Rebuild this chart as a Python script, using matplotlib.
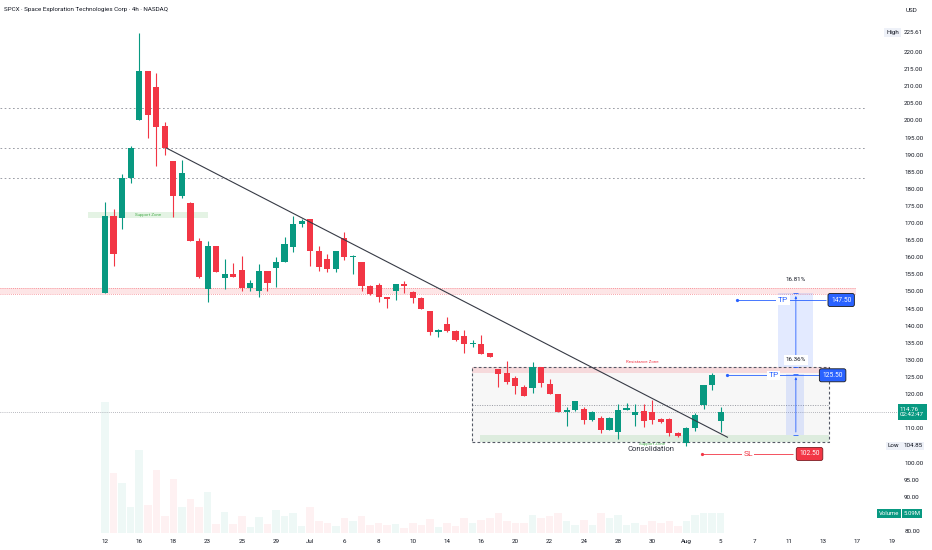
import matplotlib
matplotlib.use("Agg")
import matplotlib.pyplot as plt
from matplotlib.patches import Rectangle
import matplotlib.transforms as mtransforms

plt.rcParams['font.family'] = ['Roboto', 'DejaVu Sans']

# ---------------- data ----------------
opens = [149.6, 172.1, 171.6, 183.1, 200.1, 214.4, 209.7, 198.4, 188.0, 178.0,
         175.8, 164.8, 150.8, 163.4, 153.8, 155.1, 156.3, 151.0, 150.2, 156.0,
         157.0, 158.5, 163.0, 169.6, 171.2, 161.8, 159.4, 156.5, 165.5, 160.0,
         158.5, 151.6, 151.9, 148.3, 150.0, 152.1, 149.8, 148.2, 144.4, 138.2,
         140.5, 138.4, 137.0, 134.6, 134.6, 132.1, 127.3, 126.1, 124.8, 122.2,
         121.7, 127.8, 122.9, 120.0, 114.9, 115.4, 115.5, 112.4, 113.1, 109.5,
         108.8, 115.4, 113.9, 115.1, 114.9, 112.6, 112.7, 108.5, 105.8, 110.0,
         116.8, 122.7, 112.1]
highs = [176.2, 174.0, 184.3, 192.6, 225.61, 214.4, 213.8, 199.6, 188.0, 188.4,
         176.2, 165.5, 164.8, 163.4, 159.4, 158.2, 160.4, 153.4, 158.0, 156.0,
         160.0, 165.8, 172.1, 171.1, 171.2, 163.3, 160.9, 161.8, 167.5, 160.6,
         158.5, 152.0, 152.4, 148.5, 152.1, 153.2, 150.0, 148.5, 144.4, 139.0,
         142.6, 138.7, 138.7, 135.8, 137.3, 132.1, 127.3, 129.8, 125.4, 122.7,
         129.5, 128.0, 124.3, 120.0, 116.1, 118.1, 116.1, 115.0, 113.6, 113.4,
         117.1, 117.5, 117.1, 117.1, 118.3, 113.0, 113.1, 108.8, 110.4, 114.4,
         122.7, 126.3, 116.3]
lows = [149.5, 157.3, 168.3, 181.6, 200.1, 195.0, 186.8, 189.9, 171.9, 177.2,
        164.8, 153.8, 146.9, 155.8, 150.8, 154.1, 150.2, 150.2, 148.5, 150.2,
        151.4, 158.5, 161.6, 168.9, 157.4, 156.1, 155.8, 155.8, 159.2, 155.1,
        150.2, 149.0, 147.0, 145.1, 147.5, 149.5, 146.5, 144.9, 137.3, 136.8,
        138.2, 135.5, 132.1, 133.9, 131.7, 130.8, 122.0, 122.9, 120.0, 119.4,
        120.2, 122.0, 120.0, 114.9, 110.7, 115.2, 111.3, 112.2, 108.5, 109.5,
        106.8, 115.4, 110.7, 110.3, 111.4, 111.6, 107.8, 107.6, 104.85, 109.2,
        115.5, 121.2, 109.0]
closes = [172.1, 161.1, 183.1, 192.0, 214.4, 201.6, 198.2, 191.9, 178.0, 184.7,
          164.8, 154.1, 163.4, 155.8, 155.0, 154.1, 151.0, 152.6, 156.0, 152.5,
          158.5, 163.8, 169.6, 170.6, 161.8, 157.2, 156.5, 161.8, 160.2, 160.4,
          151.6, 149.2, 148.5, 147.8, 152.1, 151.7, 148.2, 144.9, 138.2, 138.7,
          138.4, 135.8, 134.6, 135.0, 131.7, 130.8, 126.0, 123.4, 122.4, 119.4,
          128.0, 123.2, 120.0, 114.9, 115.4, 117.9, 112.4, 114.7, 109.5, 113.1,
          115.4, 115.8, 114.9, 112.2, 112.4, 111.8, 108.5, 107.8, 110.0, 113.9,
          122.7, 125.6, 114.76]
volumes = [33.8, 15.5, 12.9, 6.8, 21.3, 7.2, 16.2, 4.4, 14.0, 6.8,
           8.7, 6.8, 10.6, 2.4, 5.3, 2.4, 4.4, 1.5, 4.1, 2.4,
           5.8, 4.3, 5.1, 1.7, 6.6, 3.0, 2.6, 1.7, 3.8, 3.2,
           4.4, 2.1, 2.7, 2.1, 2.4, 1.3, 2.6, 2.1, 3.6, 1.5,
           2.7, 1.7, 3.8, 2.6, 3.4, 3.8, 5.1, 3.0, 2.7, 2.7,
           4.7, 3.8, 4.3, 5.1, 3.0, 2.1, 3.4, 2.1, 5.1, 3.8,
           4.7, 2.1, 2.6, 2.1, 3.0, 2.6, 3.0, 1.7, 3.0, 4.7,
           5.1, 5.1, 5.09]

date_labels = ["12", "16", "18", "23", "25", "29", "Jul", "6", "8", "10", "14", "16",
               "20", "22", "24", "28", "30", "Aug", "5", "7", "11", "13", "17", "19"]
price_ticks = [80, 90, 95, 100, 110, 120, 125, 130, 135, 140, 145, 150, 155, 160,
               165, 170, 175, 180, 185, 190, 195, 200, 205, 210, 215, 220]
dotted_levels = [203.5, 192.0, 183.3]
zone150 = (149.3, 150.9)
support_zone = (171.6, 173.1)
box_range = (105.9, 128.0)
box_resist = (126.1, 128.0)
box_support = (105.9, 108.1)
trend_pts = [(7.2, 191.9), (72.8, 107.4)]
tp1, tp2, sl = 147.50, 125.50, 102.50
meas1 = (128.0, 149.5, "16.81%")
meas2 = (108.1, 125.8, "16.36%")
last_price = 114.76
high_val, low_val = 225.61, 104.85

GREEN = "#089981"
RED = "#f23645"
BLUE = "#2962ff"
GREY = "#787b86"
TXT = "#131722"

# ---------------- figure ----------------
fig = plt.figure(figsize=(9.32, 5.5), dpi=100)
rect = [0, 17 / 550, 900 / 932, 533 / 550]
axv = fig.add_axes(rect)
ax = fig.add_axes(rect, sharex=axv)
ax.set_zorder(2)
axv.set_zorder(1)
ax.patch.set_visible(False)

n = len(opens)
idx = list(range(n))
XMIN, XMAX = -12.28, 92.98
ax.set_xlim(XMIN, XMAX)
ax.set_ylim(79.4, 235.2)
XEND = 88.9

# volume
vcols = [GREEN if c >= o else RED for o, c in zip(opens, closes)]
axv.bar(idx, volumes, width=0.88, color=vcols, alpha=0.065, linewidth=0)
axv.set_ylim(0, 137.2)
axv.axis('off')

# horizontal dotted levels
for lv in dotted_levels:
    ax.hlines(lv, XMIN, XEND, colors="#8a8d96", linestyles=(0, (2, 3)), linewidth=0.6, zorder=1)

# 150 zone
ax.add_patch(Rectangle((XMIN, zone150[0]), 87.8 - XMIN, zone150[1] - zone150[0],
                       facecolor=RED, alpha=0.13, linewidth=0, zorder=1))
for lv in zone150:
    ax.hlines(lv, XMIN, 87.8, colors=RED, linestyles=(0, (1, 1.5)), linewidth=0.6, alpha=0.6, zorder=1)

# support zone (left)
ax.add_patch(Rectangle((-1.95, support_zone[0]), 13.95, support_zone[1] - support_zone[0],
                       facecolor="#4caf50", alpha=0.15, linewidth=0, zorder=1))
ax.text(5.0, sum(support_zone) / 2, "Support Zone", fontsize=3.2, color="#4caf50",
        ha='center', va='center', zorder=2)

# consolidation box
bx0, bx1 = 42.96, 84.7
ax.add_patch(Rectangle((bx0, box_range[0]), bx1 - bx0, box_range[1] - box_range[0],
                       facecolor="#9e9e9e", alpha=0.08, linewidth=0, zorder=1))
ax.add_patch(Rectangle((bx0, box_range[0]), bx1 - bx0, box_range[1] - box_range[0],
                       fill=False, edgecolor="#555a66", linestyle=(0, (2.5, 2)), linewidth=0.8, zorder=3))
ax.add_patch(Rectangle((bx0, box_resist[0]), bx1 - bx0, box_resist[1] - box_resist[0],
                       facecolor=RED, alpha=0.15, linewidth=0, zorder=1))
ax.add_patch(Rectangle((43.9, box_support[0]), bx1 - 43.9, box_support[1] - box_support[0],
                       facecolor="#4caf50", alpha=0.15, linewidth=0, zorder=1))
ax.hlines(sum(box_range) / 2, bx0, bx1, colors=GREY, linestyles=(0, (1.5, 2)), linewidth=0.5, zorder=1)
ax.text(62.8, 129.3, "Resistance Zone", fontsize=3.2, color=RED, ha='center', va='center', zorder=2)
ax.text(64.0, 105.3, "Support Zone", fontsize=3.2, color="#4caf50", ha='center', va='center', zorder=2)
ax.text(63.9, 104.0, "Consolidation", fontsize=5.5, color="#2a2e39", ha='center', va='center', zorder=4)

# current price line
ax.hlines(last_price, XMIN, XMAX, colors=GREY, linestyles=(0, (1, 2)), linewidth=0.5, zorder=1)

# candles
for i, o, h, l, c in zip(idx, opens, highs, lows, closes):
    col = GREEN if c >= o else RED
    ax.vlines(i, l, h, colors=col, linewidth=0.8, zorder=4)
    bot = min(o, c)
    hgt = max(abs(c - o), 0.35)
    ax.bar(i, hgt, bottom=bot, width=0.72, color=col, linewidth=0, zorder=5)

# trendline
ax.plot([p[0] for p in trend_pts], [p[1] for p in trend_pts], color="#363a45",
        linewidth=0.8, zorder=6)

# measurement rectangles
for (lo, hi, lab), (x0, x1), ly in [(meas1, (78.75, 82.8), 153.4), (meas2, (79.7, 81.8), 130.0)]:
    ax.add_patch(Rectangle((x0, lo), x1 - x0, hi - lo, facecolor=BLUE, alpha=0.13,
                           linewidth=0, zorder=2))
    ax.annotate("", xy=(80.8, hi), xytext=(80.8, lo),
                arrowprops=dict(arrowstyle="-|>", color=BLUE, lw=0.6, mutation_scale=3),
                zorder=3)
    ax.hlines([lo, hi], 80.5, 81.1, colors=BLUE, linewidth=0.6, zorder=3)
    ax.text(80.8, ly, lab, fontsize=4.5, color=TXT, ha='center', va='center', zorder=6,
            bbox=dict(boxstyle="square,pad=0.35", facecolor="white", edgecolor="none"))

# TP / SL lines
def level(y, x0, x1, xt, label, col, xbox, boxtxt):
    ax.hlines(y, x0, x1, colors=col, linewidth=0.6, zorder=6)
    ax.plot([x0], [y], marker='o', markersize=1.3, color=col, zorder=6)
    ax.text(xt, y, label, fontsize=6, color=col, ha='center', va='center', zorder=7,
            bbox=dict(boxstyle="square,pad=0.2", facecolor="white", edgecolor="none"))
    ax.text(xbox, y, boxtxt, fontsize=4.8, color="white", ha='center', va='center', zorder=8,
            bbox=dict(boxstyle="round,pad=0.45,rounding_size=0.3", facecolor=col,
                      edgecolor="#1a1a1a" if col == BLUE else "#7a1c22", linewidth=0.6))

level(tp1, 73.9, 84.3, 79.3, "TP", BLUE, 86.1, f"{tp1:.2f}")
level(tp2, 72.7, 83.5, 78.2, "TP", BLUE, 85.1, f"{tp2:.2f}")
level(sl, 69.8, 80.5, 75.2, "SL", RED, 82.4, f"{sl:.2f}")

# axes styling
for s in ax.spines.values():
    s.set_visible(False)
ax.yaxis.tick_right()
ax.set_yticks(price_ticks)
ax.set_yticklabels([f"{v:.2f}" for v in price_ticks])
ax.tick_params(axis='y', length=0, pad=3, labelsize=4.5, colors=TXT)
ax.set_xticks(list(range(0, 4 * len(date_labels), 4)))
ax.set_xticklabels(date_labels)
ax.tick_params(axis='x', length=0, pad=4, labelsize=4.5, colors=TXT)

# right-side labels
bt = mtransforms.blended_transform_factory(ax.transAxes, ax.transData)
ax.text(1.0036, high_val, f"{high_val:.2f}", transform=bt, fontsize=4.5, color=TXT,
        ha='left', va='center', clip_on=False)
ax.text(0.999, high_val, "High", transform=bt, fontsize=4.5, color=TXT, ha='right', va='center',
        clip_on=False, bbox=dict(boxstyle="square,pad=0.3", facecolor="#eef1f8", edgecolor="none"))
ax.text(1.0036, low_val, f"{low_val:.2f}", transform=bt, fontsize=4.5, color=TXT,
        ha='left', va='center', clip_on=False,
        bbox=dict(boxstyle="square,pad=0.3", facecolor="#eef1f8", edgecolor="none"))
ax.text(0.999, low_val, "Low", transform=bt, fontsize=4.5, color=TXT, ha='right', va='center',
        clip_on=False, bbox=dict(boxstyle="square,pad=0.3", facecolor="#eef1f8", edgecolor="none"))
ax.text(1.0, last_price, f"{last_price:.2f}\n02:42:47", transform=bt, fontsize=4.5,
        color="white", ha='left', va='center', clip_on=False, linespacing=1.1,
        bbox=dict(boxstyle="square,pad=0.4", facecolor=GREEN, edgecolor="none"))
btv = mtransforms.blended_transform_factory(axv.transAxes, axv.transData)
axv.text(0.9995, volumes[-1], "Volume", transform=btv, fontsize=4.3, color="white",
         ha='right', va='center', clip_on=False,
         bbox=dict(boxstyle="square,pad=0.3", facecolor=GREEN, edgecolor="none"))
axv.text(1.004, volumes[-1], "5.09M", transform=btv, fontsize=4.3, color="white",
         ha='left', va='center', clip_on=False,
         bbox=dict(boxstyle="square,pad=0.3", facecolor=GREEN, edgecolor="none"))

fig.text(912 / 932, 1 - 10 / 550, "USD", fontsize=4.5, color=TXT, ha='center', va='center')
fig.text(4 / 932, 1 - 9 / 550, "SPCX · Space Exploration Technologies Corp · 4h · NASDAQ",
         fontsize=4.5, color=TXT, ha='left', va='center')

fig.savefig("out.png", dpi=100, facecolor="white")
